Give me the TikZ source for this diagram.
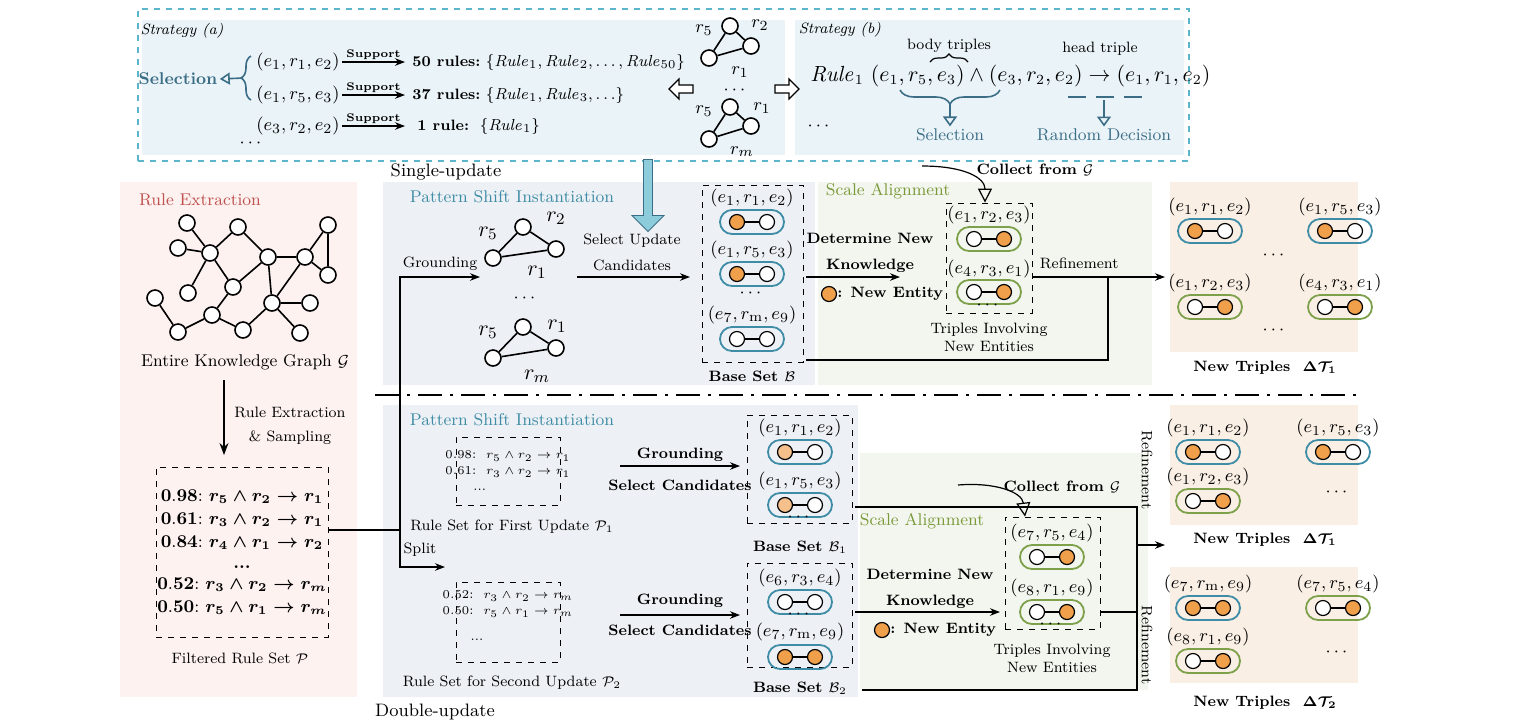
\documentclass[tikz,border=0pt]{standalone}
\usepackage{amsmath,amssymb}
\usetikzlibrary{arrows.meta,shapes.arrows,decorations.pathreplacing,calc}
\definecolor{tealb}{HTML}{3E8CA5}
\definecolor{teald}{HTML}{3B6E86}
\definecolor{dashb}{HTML}{5BB6CB}
\definecolor{pillg}{HTML}{7DA04A}
\definecolor{oran}{HTML}{F0A04B}
\definecolor{oranl}{HTML}{F5C08C}
\definecolor{pblue}{HTML}{EDF1F5}
\definecolor{pstrat}{HTML}{EAF3F8}
\definecolor{pgreen}{HTML}{F3F6EE}
\definecolor{ppeach}{HTML}{FAEFE5}
\definecolor{ppink}{HTML}{FDF2F0}
\definecolor{redt}{HTML}{C0504D}
\definecolor{greent}{HTML}{7A9A3A}
\newcommand{\mypill}[6]{%
  \node[pill,draw=#3] (#6) at (#1,#2) {};
  \node[ent,fill=#4] (#6l) at ($(#6)+(-15,0)$) {};
  \node[ent,fill=#5] (#6r) at ($(#6)+(15,0)$) {};
  \draw[semithick] (#6l) -- (#6r);}
\begin{document}
\begin{tikzpicture}[x=0.5pt,y=-0.5pt,
  lab/.style={font=\fontsize{7.5}{9}\selectfont,inner sep=1pt},
  labb/.style={font=\fontsize{7.5}{9}\selectfont\bfseries,inner sep=1pt},
  tri/.style={font=\fontsize{9.5}{11}\selectfont,inner sep=1pt},
  pill/.style={rounded corners=6pt,minimum width=32pt,minimum height=12pt,line width=0.9pt},
  ent/.style={circle,draw,semithick,minimum size=7.5pt,inner sep=0pt,fill=white},
  gn/.style={circle,draw,thick,minimum size=8pt,inner sep=0pt,fill=white},
  dbox/.style={draw,dashed,thin},
  arr/.style={-{Stealth[length=5pt]},semithick},
  ln/.style={semithick},
  brc/.style={decorate,decoration={brace,amplitude=#1}}]
\useasboundingbox (0,0) rectangle (1521,720);
% ---------- top strategy box
\node[draw=dashb,dashed,thick,minimum width=525.5pt,minimum height=76pt,anchor=north west] (top) at (137,8) {};
\fill[pstrat] (142,20) rectangle (785,155);
\fill[pstrat] (795,20) rectangle (1184,155);
\node[lab] (sa) at (182,31) {\itshape Strategy (a)};
\node[lab,text=teald,font=\fontsize{8.5}{10}\selectfont\bfseries] (sel1) at (178,79) {Selection};
\draw[teald,thick,brc=5pt] (251,100) -- (251,56);
\draw[teald,thick,-{Triangle[open,length=5pt,width=6pt]}] (243,78) -- (sel1.east);
\node[tri] (ta1) at (298,62) {$(e_1,r_1,e_2)$};
\node[tri] (ta2) at (298,95) {$(e_1,r_5,e_3)$};
\node[tri] (ta3) at (298,126) {$(e_3,r_2,e_2)$};
\node[tri] (tad) at (252,143) {$\cdots$};
\node[lab,anchor=west] (sr1) at (410,62) {\textbf{50 rules:}\ \fontsize{8.5}{10}\selectfont$\{\mathit{Rule}_1,\mathit{Rule}_2,\ldots,\mathit{Rule}_{50}\}$};
\node[lab,anchor=west] (sr2) at (410,95) {\textbf{37 rules:}\ \fontsize{8.5}{10}\selectfont$\{\mathit{Rule}_1,\mathit{Rule}_3,\ldots\}$};
\node[lab,anchor=west] (sr3) at (415,126) {\textbf{1 rule:}\ \ \fontsize{8.5}{10}\selectfont$\{\mathit{Rule}_1\}$};
\draw[arr] (ta1.east) -- node[above,lab,font=\fontsize{5.5}{6}\selectfont\bfseries]{Support} (405,62);
\draw[arr] (ta2.east) -- node[above,lab,font=\fontsize{5.5}{6}\selectfont\bfseries]{Support} (405,95);
\draw[arr] (ta3.east) -- node[above,lab,font=\fontsize{5.5}{6}\selectfont\bfseries]{Support} (405,126);
% middle graphs
\node[gn] (m1a) at (730,26) {};
\node[gn] (m1b) at (751,46) {};
\node[gn] (m1c) at (709,58) {};
\draw[thick] (m1a)--(m1b) (m1a)--(m1c) (m1c)--(m1b);
\node[tri] (m1r5) at (704,30) {$r_5$};
\node[tri] (m1r2) at (760,25) {$r_2$};
\node[tri] (m1r1) at (740,72) {$r_1$};
\node[tri] (mdots) at (736,90) {$\cdots$};
\node[gn] (m2a) at (730,107) {};
\node[gn] (m2b) at (751,126) {};
\node[gn] (m2c) at (709,139) {};
\draw[thick] (m2a)--(m2b) (m2a)--(m2c) (m2c)--(m2b);
\node[tri] (m2r5) at (704,111) {$r_5$};
\node[tri] (m2r1) at (762,108) {$r_1$};
\node[tri] (m2rm) at (742,152) {$r_m$};
\node[single arrow,draw,semithick,fill=white,minimum height=12pt,minimum width=10pt,single arrow head extend=2pt,shape border rotate=180,inner sep=1pt] (oal) at (683,89) {};
\node[single arrow,draw,semithick,fill=white,minimum height=12pt,minimum width=10pt,single arrow head extend=2pt,inner sep=1pt] (oar) at (785,89) {};
% strategy b
\node[lab] (sb) at (840,30) {\itshape Strategy (b)};
\node[tri,font=\fontsize{10.5}{12}\selectfont,anchor=west] (rl1) at (808,76) {$\mathit{Rule}_1\ (e_1,r_5,e_3)\wedge(e_3,r_2,e_2)\rightarrow(e_1,r_1,e_2)$};
\draw[semithick,brc=4pt] (930,62) -- (968,62);
\node[lab] (bodyt) at (949,46) {body triples};
\node[lab] (headt) at (1100,49) {head triple};
\draw[teald,thick,decorate,decoration={brace,amplitude=7pt,mirror}] (900,90) -- (1000,90);
\draw[teald,thick,dash pattern=on 9pt off 5pt] (1068,97) -- (1142,97);
\node[lab,text=teald,font=\fontsize{8.5}{10}\selectfont] (selb) at (950,135) {Selection};
\node[lab,text=teald,font=\fontsize{8.5}{10}\selectfont] (rdec) at (1104,135) {Random Decision};
\draw[teald,thick,-{Triangle[open,length=5pt,width=7pt]}] (950,104) -- (selb.north);
\draw[teald,thick,-{Triangle[open,length=5pt,width=7pt]}] (1104,100) -- (rdec.north);
\node[tri] (bdots) at (820,126) {$\cdots$};
\node[lab,font=\fontsize{9}{10}\selectfont] (su) at (446,172) {Single-update};
% ---------- left panel
\fill[ppink] (120,182) rectangle (357,697);
\node[lab,text=redt,font=\fontsize{8.5}{10}\selectfont] (rex) at (200,200) {Rule Extraction};
\foreach \n/\x/\y in {a/187/223,b/178/248,c/210/253,d/238/227,e/188/293,f/233/287,g/268/257,h/305/257,i/328/225,j/328/275,k/155/298,l/178/332,m/212/315,n/243/330,o/272/303,p/310/303,q/300/333}
  \node[gn] (g\n) at (\x,\y) {};
\foreach \u/\v in {a/c,b/c,c/d,c/f,c/e,d/g,f/g,g/h,g/o,h/o,h/i,h/j,i/j,f/m,k/l,l/m,m/n,n/o,o/p,o/q}
  \draw[thick] (g\u) -- (g\v);
\node[lab,font=\fontsize{8.5}{10}\selectfont] (ekg) at (245,362) {Entire Knowledge Graph $\mathcal{G}$};
\node[dbox,minimum width=86pt,minimum height=85pt] (frs) at (242,552) {};
\node[lab,font=\fontsize{8.8}{10.5}\selectfont,align=center] (frst) at (242,552) {%
$\mathbf{0.98}$:\ $\boldsymbol{r_5\wedge r_2\rightarrow r_1}$\\[1pt]
$\mathbf{0.61}$:\ $\boldsymbol{r_3\wedge r_2\rightarrow r_1}$\\[1pt]
$\mathbf{0.84}$:\ $\boldsymbol{r_4\wedge r_1\rightarrow r_2}$\\[0pt]
\textbf{...}\\[0pt]
$\mathbf{0.52}$:\ $\boldsymbol{r_3\wedge r_2\rightarrow r_m}$\\[1pt]
$\mathbf{0.50}$:\ $\boldsymbol{r_5\wedge r_1\rightarrow r_m}$};
\node[lab] (frsl) at (240,658) {Filtered Rule Set $\mathcal{P}$};
\coordinate (ra) at (224,380);
\coordinate (rb) at (224,455);
\draw[arr,-{Stealth[length=6pt]}] (ra) -- (rb);
\node[lab,align=center] (rexs) at (290,426) {Rule Extraction\\[3pt] \& Sampling};
% ---------- upper panels
\fill[pblue] (383,182) rectangle (815,385);
\fill[pgreen] (818,182) rectangle (1152,385);
\fill[ppeach] (1170,182) rectangle (1358,352);
\node[lab,text=tealb,font=\fontsize{8.5}{10}\selectfont] (psi1) at (512,197) {Pattern Shift Instantiation};
\node[lab,text=greent,font=\fontsize{8.5}{10}\selectfont] (sca1) at (888,191) {Scale Alignment};
\node[gn] (u1a) at (523,227) {};
\node[gn] (u1b) at (556,249) {};
\node[gn] (u1c) at (493,258) {};
\draw[thick] (u1a)--(u1b) (u1a)--(u1c) (u1c)--(u1b);
\node[tri,font=\fontsize{11}{12}\selectfont] (u1r5) at (488,233) {$r_5$};
\node[tri,font=\fontsize{11}{12}\selectfont] (u1r2) at (556,218) {$r_2$};
\node[tri,font=\fontsize{11}{12}\selectfont] (u1r1) at (537,272) {$r_1$};
\node[tri] (udots) at (526,298) {$\cdots$};
\node[gn] (u2a) at (523,327) {};
\node[gn] (u2b) at (556,348) {};
\node[gn] (u2c) at (493,358) {};
\draw[thick] (u2a)--(u2b) (u2a)--(u2c) (u2c)--(u2b);
\node[tri,font=\fontsize{11}{12}\selectfont] (u2r5) at (488,332) {$r_5$};
\node[tri,font=\fontsize{11}{12}\selectfont] (u2r1) at (557,326) {$r_1$};
\node[tri,font=\fontsize{11}{12}\selectfont] (u2rm) at (537,376) {$r_m$};
\node[lab] (grd1) at (440,264) {Grounding};
\node[lab,align=center] (suc) at (632,252) {Select Update\\[4pt]Candidates};
\draw[arr] (577,277) -- (690,277);
% big teal arrow
\node[single arrow,draw=teald,fill=dashb!70,minimum height=36pt,minimum width=16pt,single arrow head extend=3pt,shape border rotate=270,inner sep=1pt,anchor=tip] (bigarr) at (648,232) {};
% base set B
\node[dbox,minimum width=50.5pt,minimum height=88.5pt] (bsb) at (752.5,273.5) {};
\node[tri] (b1t) at (752,198) {$(e_1,r_1,e_2)$};
\mypill{752}{222}{tealb}{oran}{white}{bp1}
\node[tri] (b2t) at (752,250) {$(e_1,r_5,e_3)$};
\mypill{752}{274}{tealb}{oran}{white}{bp2}
\node[tri] (bdt) at (752,293) {$\cdots$};
\node[tri] (b3t) at (752,315) {$(e_7,r_{\mathrm{m}},e_9)$};
\mypill{752}{339}{tealb}{white}{white}{bp3}
\node[labb] (bsl) at (752,376) {Base Set $\mathcal{B}$};
\draw[arr] (806,277) -- (900,277);
\node[labb,align=center] (dnk1) at (870,253) {Determine New\\[4pt]Knowledge};
\node[ent,fill=oran] (ne1) at (829,294) {};
\node[labb,anchor=west] (ne1t) at (835,294) {: New Entity};
\node[dbox,minimum width=43pt,minimum height=55pt] (tib1) at (989,258) {};
\node[tri] (c1t) at (989,215) {$(e_1,r_2,e_3)$};
\mypill{989}{239}{pillg}{white}{oran}{cp1}
\node[tri] (c2t) at (989,269) {$(e_4,r_3,e_1)$};
\mypill{989}{292}{pillg}{white}{oran}{cp2}
\node[tri] (cdt) at (989,305) {$\cdots$};
\node[lab,align=center] (tin1) at (989,337) {Triples Involving\\New Entities};
\coordinate (cf1s) at (922,166);
\draw[semithick,-{Triangle[open,length=7pt,width=7pt]}] (cf1s) .. controls (965,166) and (985,178) .. (tib1.north -| 985,0);
\node[labb] (cfg1) at (1035,170) {Collect from $\mathcal{G}$};
\draw[arr] (1033,277) -- node[pos=0.35,above=3pt,lab]{Refinement} (1165,277);
\draw[ln] (806,360) -- (1108,360) -- (1108,277);
% right upper
\node[tri] (r1a) at (1210,207) {$(e_1,r_1,e_2)$};
\mypill{1210}{231}{tealb}{oran}{white}{rp1}
\node[tri] (r1b) at (1340,207) {$(e_1,r_5,e_3)$};
\mypill{1340}{231}{tealb}{oran}{white}{rp2}
\node[tri] (r1d) at (1275,255) {$\cdots$};
\node[tri] (r1c) at (1210,283) {$(e_1,r_2,e_3)$};
\mypill{1210}{307}{pillg}{white}{oran}{rp3}
\node[tri] (r1e) at (1340,283) {$(e_4,r_3,e_1)$};
\mypill{1340}{307}{pillg}{white}{oran}{rp4}
\node[tri] (r1f) at (1275,330) {$\cdots$};
\node[labb] (nt1) at (1265,368) {New Triples\ \ $\boldsymbol{\Delta\mathcal{T}_1}$};
% dash-dot divider
\draw[thick,dash pattern=on 12pt off 4pt on 1.5pt off 4pt] (375,395) -- (1360,395);
% ---------- lower panels
\fill[pblue] (383,405) rectangle (858,697);
\fill[pgreen] (860,453) rectangle (1148,690);
\fill[ppeach] (1170,405) rectangle (1358,525);
\fill[ppeach] (1170,567) rectangle (1358,683);
\node[lab,text=tealb,font=\fontsize{8.5}{10}\selectfont] (psi2) at (512,420) {Pattern Shift Instantiation};
\node[lab,text=greent,font=\fontsize{8.5}{10}\selectfont] (sca2) at (922,521) {Scale Alignment};
\node[dbox,minimum width=52pt,minimum height=34pt] (p1) at (508,471) {};
\node[lab,font=\fontsize{6.5}{8}\selectfont,align=left] (p1t) at (508,471) {$0.98$:\ \ $r_5\wedge r_2\rightarrow r_1$\\$0.61$:\ \ $r_3\wedge r_2\rightarrow r_1$\\\hspace*{14pt}...};
\node[lab] (p1l) at (512,527) {Rule Set for First Update $\mathcal{P}_1$};
\node[dbox,minimum width=52pt,minimum height=40pt] (p2) at (508,622) {};
\node[lab,font=\fontsize{6.5}{8}\selectfont,align=left] (p2t) at (508,616) {$0.52$:\ \ $r_3\wedge r_2\rightarrow r_m$\\$0.50$:\ \ $r_5\wedge r_1\rightarrow r_m$\\[5pt]\hspace*{14pt}...};
\node[lab] (p2l) at (512,683) {Rule Set for Second Update $\mathcal{P}_2$};
\draw[arr] (620,466) -- (740,466);
\node[labb] (gr2) at (680,455) {Grounding};
\node[labb] (sc2) at (680,485) {Select Candidates};
\draw[arr] (620,615) -- (740,615);
\node[labb] (gr3) at (680,601) {Grounding};
\node[labb] (sc3) at (680,630) {Select Candidates};
% B1
\node[dbox,minimum width=52.5pt,minimum height=54pt] (bs1) at (799.5,469) {};
\node[tri] (d1t) at (800,428) {$(e_1,r_1,e_2)$};
\mypill{800}{452}{tealb}{oranl}{white}{dp1}
\node[tri] (d2t) at (800,481) {$(e_1,r_5,e_3)$};
\mypill{800}{505}{tealb}{oranl}{white}{dp2}
\node[tri] (ddt) at (800,517) {$\cdots$};
\node[labb] (bs1l) at (800,547) {Base Set $\mathcal{B}_1$};
% B2
\node[dbox,minimum width=52.5pt,minimum height=52pt] (bs2) at (799.5,615) {};
\node[tri] (e1t) at (800,578) {$(e_6,r_3,e_4)$};
\mypill{800}{602}{tealb}{white}{white}{ep1}
\node[tri] (edt) at (800,614) {$\cdots$};
\node[tri] (e2t) at (800,632) {$(e_7,r_{\mathrm{m}},e_9)$};
\mypill{800}{657}{tealb}{oran}{oran}{ep2}
\node[labb] (bs2l) at (800,688) {Base Set $\mathcal{B}_2$};
\draw[arr] (855,612) -- (1000,612);
\node[labb,align=center] (dnk2) at (930,589) {Determine New\\[4pt]Knowledge};
\node[ent,fill=oran] (ne2) at (882,630) {};
\node[labb,anchor=west] (ne2t) at (888,630) {: New Entity};
\node[dbox,minimum width=47.5pt,minimum height=56pt] (tib2) at (1052.5,573) {};
\node[tri] (f1t) at (1052,533) {$(e_7,r_5,e_4)$};
\mypill{1052}{557}{pillg}{white}{oran}{fp1}
\node[tri] (f2t) at (1052,588) {$(e_8,r_1,e_9)$};
\mypill{1052}{612}{pillg}{white}{oran}{fp2}
\node[tri] (fdt) at (1052,624) {$\cdots$};
\node[lab,align=center] (tin2) at (1052,658) {Triples Involving\\New Entities};
\coordinate (cf2s) at (958,485);
\draw[semithick,-{Triangle[open,length=7pt,width=7pt]}] (cf2s) .. controls (995,482) and (1022,492) .. (tib2.north -| 1025,0);
\node[labb] (cfg2) at (1062,487) {Collect from $\mathcal{G}$};
\draw[ln] (855,507) -- (1137,507) -- (1137,690) -- (862,690);
\draw[ln] (1100,612) -- (1137,612);
\draw[arr] (1137,545) -- (1165,545);
\node[lab,rotate=-90] (ref2a) at (1147,470) {Refinement};
\node[lab,rotate=-90] (ref2b) at (1147,645) {Refinement};
% right lower
\node[tri] (s1a) at (1208,428) {$(e_1,r_1,e_2)$};
\mypill{1208}{452}{tealb}{oran}{white}{sp1}
\node[tri] (s1b) at (1338,428) {$(e_1,r_5,e_3)$};
\mypill{1338}{452}{tealb}{oran}{white}{sp2}
\node[tri] (s1c) at (1208,477) {$(e_1,r_2,e_3)$};
\mypill{1208}{501}{pillg}{white}{oran}{sp3}
\node[tri] (s1d) at (1338,492) {$\cdots$};
\node[labb] (nt2) at (1265,540) {New Triples\ \ $\boldsymbol{\Delta\mathcal{T}_1}$};
\node[tri] (s2a) at (1208,584) {$(e_7,r_{\mathrm{m}},e_9)$};
\mypill{1208}{608}{tealb}{oran}{oran}{sp4}
\node[tri] (s2b) at (1338,584) {$(e_7,r_5,e_4)$};
\mypill{1338}{608}{pillg}{white}{oran}{sp5}
\node[tri] (s2c) at (1208,637) {$(e_8,r_1,e_9)$};
\mypill{1208}{661}{pillg}{white}{oran}{sp6}
\node[tri] (s2d) at (1338,652) {$\cdots$};
\node[labb] (nt3) at (1265,703) {New Triples\ \ $\boldsymbol{\Delta\mathcal{T}_2}$};
% ---------- connectors from rule set
\coordinate (jn) at (400,530);
\draw[ln] (frs.east |- jn) -- (jn);
\draw[arr] (400,567) -- (400,277) -- (480,277);
\draw[arr] (400,530) -- (400,567) -- (445,567);
\node[lab] (split) at (420,550) {Split};
\node[lab,font=\fontsize{9}{10}\selectfont] (du) at (435,712) {Double-update};
\end{tikzpicture}
\end{document}
